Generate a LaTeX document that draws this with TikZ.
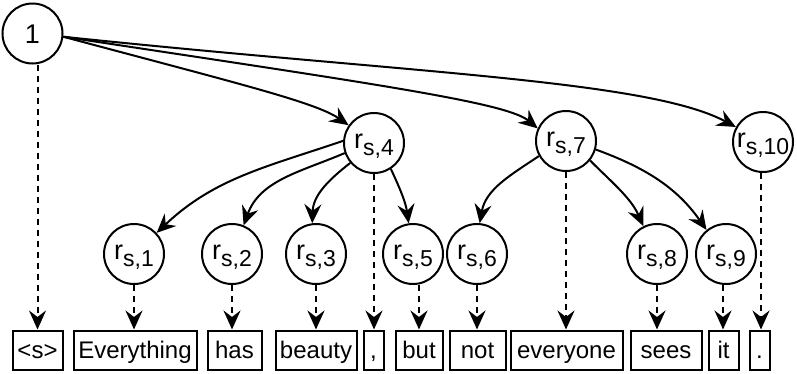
\documentclass[tikz,border=0pt]{standalone}
\usepackage{fontspec}
\setmainfont{Liberation Sans}
\usetikzlibrary{arrows.meta}
\newcommand\rsub[1]{r\raisebox{-7pt}{\fontsize{23}{23}\selectfont s,#1}}
\begin{document}
\begin{tikzpicture}[x=1pt,y=-1pt,
  circ/.style={circle, draw, line width=2pt, minimum size=60pt, inner sep=0pt,
    font=\fontsize{27}{27}\selectfont, text height=10pt, text depth=0pt},
  wbox/.style={rectangle, draw, line width=2pt, minimum height=39pt, inner sep=0pt,
    font=\fontsize{24}{24}\selectfont, text height=17pt, text depth=0pt},
  arr/.style={line width=2pt, -{Stealth[length=19pt,width=17pt,inset=6.5pt]}},
  darr/.style={arr, dash pattern=on 6pt off 5pt}]
\useasboundingbox (0,0) rectangle (797,373);

% tree nodes
\node[circ, text height=19pt] (n1) at (32.5,33.5) {1};
\node[circ] (r4) at (374,143) {\rsub{4}};
\node[circ] (r7) at (566,141) {\rsub{7}};
\node[circ] (r10) at (763,142) {\rsub{10}};
\node[circ] (r1) at (134,254) {\rsub{1}};
\node[circ] (r2) at (232,254) {\rsub{2}};
\node[circ] (r3) at (316,254) {\rsub{3}};
\node[circ] (r5) at (413,254) {\rsub{5}};
\node[circ] (r6) at (477,254) {\rsub{6}};
\node[circ] (r8) at (657,254) {\rsub{8}};
\node[circ] (r9) at (726,254) {\rsub{9}};

% words
\node[wbox, minimum width=50pt]  (w0)  at (37.5,350)  {<s>};
\node[wbox, minimum width=123pt] (w1)  at (135,350)   {Everything};
\node[wbox, minimum width=54pt]  (w2)  at (234.5,350) {has};
\node[wbox, minimum width=81pt]  (w3)  at (316,350)   {beauty};
\node[wbox, minimum width=20pt]  (w4)  at (373.5,350) {,};
\node[wbox, minimum width=47pt]  (w5)  at (419,350)   {but};
\node[wbox, minimum width=56pt]  (w6)  at (477.5,350) {not};
\node[wbox, minimum width=112pt] (w7)  at (566.5,350) {everyone};
\node[wbox, minimum width=71pt]  (w8)  at (666,350)   {sees};
\node[wbox, minimum width=30pt]  (w9)  at (723.5,350) {it};
\node[wbox, minimum width=20pt]  (w10) at (759.5,350) {.};

% solid edges from root
\draw[arr] (n1.-6) .. controls +(348,36.6) and +(-88.3,-47) .. (r10.151);
\draw[arr] (n1.-6) .. controls +(316.4,47.9) and +(-30.6,-25.7) .. (r7.156);
\draw[arr] (n1.-6) .. controls +(173.9,46.6) and +(-32.8,-22.9) .. (r4.145);

% solid edges from r4
\draw[arr] (r4.176) .. controls +(-76,26) and +(58,-55) .. (r1.43);
\draw[arr] (r4.199) .. controls +(-44.2,18.8) and +(16.4,-45.1) .. (r2.68);
\draw[arr] (r4.220) .. controls +(-22,17.2) and +(1,-28) .. (r3.97);
\draw[arr] (r4.-57) .. controls +(8.9,19) and +(-3,-21) .. (r5.98);

% solid edges from r7
\draw[arr] (r7.209) .. controls +(-28.2,19) and +(6,-34) .. (r6.85);
\draw[arr] (r7.-39) .. controls +(21.9,21.9) and +(-12.6,-28.3) .. (r8.116);
\draw[arr] (r7.-16) .. controls +(48.9,17.8) and +(-29.8,-42.6) .. (r9.129);

% dashed edges to words
\draw[darr] (w0.north |- n1.south) -- (w0.north);
\draw[darr] (r1.south) -- (r1.south |- w1.north);
\draw[darr] (r2.south) -- (r2.south |- w2.north);
\draw[darr] (r3.south) -- (r3.south |- w3.north);
\draw[darr] (r4.south) -- (r4.south |- w4.north);
\draw[darr] (w5.north |- r5.south) -- (w5.north);
\draw[darr] (r6.south) -- (r6.south |- w6.north);
\draw[darr] (r7.south) -- (r7.south |- w7.north);
\draw[darr] (r8.south) -- (r8.south |- w8.north);
\draw[darr] ([xshift=-3pt]r9.south) -- ([xshift=-3pt]r9.south |- w9.north);
\draw[darr] ([xshift=-2pt]r10.south) -- ([xshift=-2pt]r10.south |- w10.north);
\end{tikzpicture}
\end{document}
